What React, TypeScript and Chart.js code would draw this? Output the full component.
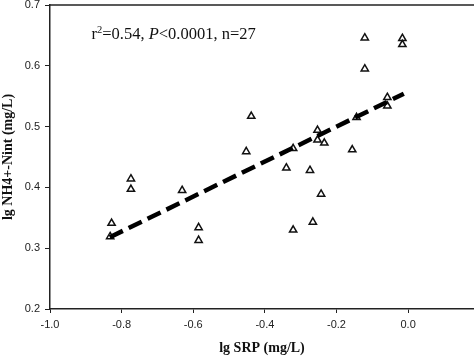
import React, { useEffect, useRef } from "react";
import { Chart, registerables } from "chart.js";

Chart.register(...registerables);

// lg SRP (x) and lg NH4+-Nint (y) observations
const srpX = [
  -0.828, -0.774, -0.774, -0.631, -0.585, -0.585, -0.452, -0.438, -0.34, -0.321,
  -0.321, -0.274, -0.266, -0.253, -0.253, -0.234, -0.243, -0.156, -0.144, -0.058,
  -0.058, -0.121, -0.121, -0.016, -0.016, -0.832,
];
const nh4Y = [
  0.341, 0.414, 0.397, 0.395, 0.334, 0.313, 0.459, 0.517, 0.432, 0.464,
  0.33, 0.428, 0.343, 0.494, 0.478, 0.473, 0.389, 0.462, 0.515, 0.548,
  0.534, 0.646, 0.595, 0.645, 0.635, 0.319,
];
// regression line endpoints
const fitX = [-0.833, -0.012];
const fitY = [0.318, 0.554];

const xTicks = [-1.0, -0.8, -0.6, -0.4, -0.2, 0.0];
const yTicks = [0.2, 0.3, 0.4, 0.5, 0.6, 0.7];
const xMin = -1.0;
const xMax = 0.184;
const yMin = 0.2;
const yMax = 0.7;

const xTitle = "lg SRP (mg/L)";
const yTitle = "lg NH4+-Nint (mg/L)";
const statsAnchor = { x: -0.884, y: 0.644 };

const AXIS = "#222";

const statsPlugin = {
  id: "stats",
  afterDraw(chart: any) {
    const ctx = chart.ctx;
    const { chartArea } = chart;
    ctx.save();
    // top frame line
    ctx.strokeStyle = AXIS;
    ctx.lineWidth = 1.5;
    ctx.beginPath();
    ctx.moveTo(chartArea.left, chartArea.top);
    ctx.lineTo(chart.width, chartArea.top);
    ctx.stroke();

    let x = chart.scales.x.getPixelForValue(statsAnchor.x);
    const y = chart.scales.y.getPixelForValue(statsAnchor.y);
    ctx.fillStyle = "#111";
    ctx.textBaseline = "alphabetic";
    ctx.textAlign = "left";
    const reg = '16.5px "Liberation Serif", "Times New Roman", serif';
    const ital = 'italic 16.5px "Liberation Serif", "Times New Roman", serif';
    const sup = '10.5px "Liberation Serif", "Times New Roman", serif';
    const parts: [string, string, number][] = [
      ["r", reg, 0],
      ["2", sup, -6.5],
      ["=0.54, ", reg, 0],
      ["P", ital, 0],
      ["<0.0001, n=27", reg, 0],
    ];
    for (const [t, f, dy] of parts) {
      ctx.font = f;
      ctx.fillText(t, x, y + dy);
      x += ctx.measureText(t).width;
    }
    ctx.restore();
  },
};

export default function App() {
  const ref = useRef<HTMLCanvasElement | null>(null);
  useEffect(() => {
    if (!ref.current) return;
    const chart = new Chart(ref.current, {
      type: "scatter",
      data: {
        datasets: [
          {
            type: "line",
            data: fitX.map((v, i) => ({ x: v, y: fitY[i] })),
            borderColor: "#000",
            borderWidth: 4.5,
            borderDash: [14.5, 6.5],
            pointRadius: 0,
            fill: false,
          } as any,
          {
            data: srpX.map((v, i) => ({ x: v, y: nh4Y[i] })),
            pointStyle: "triangle",
            pointRadius: 4.2,
            pointBorderWidth: 1.5,
            borderColor: "#111",
            backgroundColor: "#fff",
          },
        ],
      },
      options: {
        responsive: false,
        animation: false,
        devicePixelRatio: 1,
        layout: { padding: 0, autoPadding: false },
        plugins: { legend: { display: false }, tooltip: { enabled: false } },
        scales: {
          x: {
            type: "linear",
            min: xMin,
            max: xMax,
            afterBuildTicks: (s: any) => {
              s.ticks = xTicks.map((v) => ({ value: v }));
            },
            afterFit: (s: any) => {
              s.height = 48;
              s.paddingRight = 0;
              s.paddingLeft = 0;
            },
            ticks: {
              callback: (v: any) => Number(v).toFixed(1),
              color: AXIS,
              padding: 5,
              maxRotation: 0,
              font: { family: '"Liberation Sans", Arial, sans-serif', size: 11 },
            },
            grid: { drawOnChartArea: false, drawTicks: true, tickLength: 4, color: AXIS, lineWidth: 1 },
            border: { display: true, color: AXIS, width: 1.5 },
            title: {
              display: true,
              text: xTitle,
              color: "#111",
              padding: { top: 0, bottom: 0 },
              font: { family: '"Liberation Serif", "Times New Roman", serif', size: 14, weight: "bold" },
            },
          },
          y: {
            type: "linear",
            min: yMin,
            max: yMax,
            afterBuildTicks: (s: any) => {
              s.ticks = yTicks.map((v) => ({ value: v }));
            },
            afterFit: (s: any) => {
              s.width = 50;
              s.paddingTop = 5;
              s.paddingBottom = 0;
            },
            ticks: {
              callback: (v: any) => Number(v).toFixed(1),
              color: AXIS,
              padding: 5,
              font: { family: '"Liberation Sans", Arial, sans-serif', size: 11 },
            },
            grid: { drawOnChartArea: false, drawTicks: true, tickLength: 5, color: AXIS, lineWidth: 1 },
            border: { display: true, color: AXIS, width: 1.5 },
            title: {
              display: true,
              text: yTitle,
              color: "#111",
              padding: { top: 0, bottom: 0 },
              font: { family: '"Liberation Serif", "Times New Roman", serif', size: 14, weight: "bold" },
            },
          },
        },
      },
      plugins: [statsPlugin],
    });
    return () => chart.destroy();
  }, []);
  return (
    <div style={{ position: "fixed", left: 0, top: 0, width: 474, height: 357, background: "#fff" }}>
      <canvas ref={ref} width={474} height={357} style={{ display: "block" }} />
    </div>
  );
}
